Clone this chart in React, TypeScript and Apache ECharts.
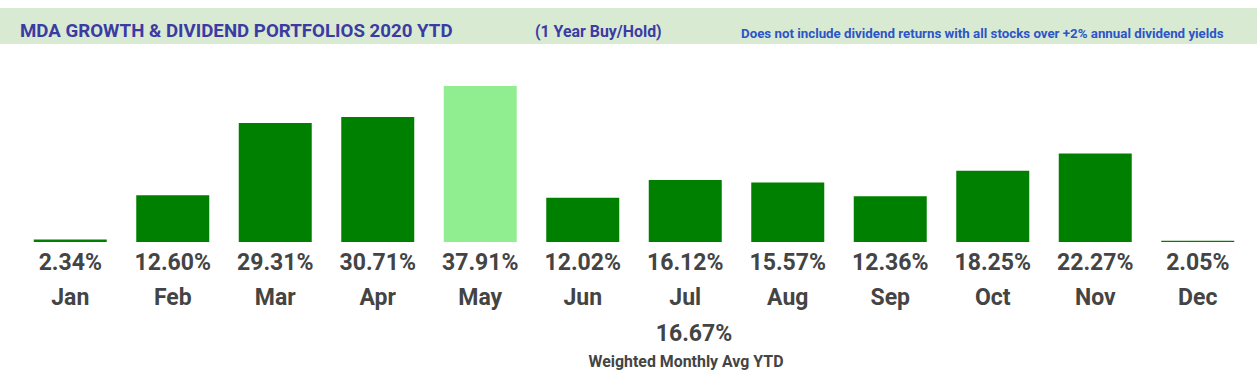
import React, { useEffect, useRef } from "react";
import * as echarts from "echarts";

const months = ["Jan", "Feb", "Mar", "Apr", "May", "Jun", "Jul", "Aug", "Sep", "Oct", "Nov", "Dec"];
const returns = [2.34, 12.6, 29.31, 30.71, 37.91, 12.02, 16.12, 15.57, 12.36, 18.25, 22.27, 2.05];
const highlightMonth = "May";
const weightedAvg = 16.67;

const titleText = "MDA GROWTH & DIVIDEND PORTFOLIOS 2020 YTD";
const subtitleText = "(1 Year Buy/Hold)";
const noteText = "Does not include dividend returns with all stocks over +2% annual dividend yields";
const avgLabel = "Weighted Monthly Avg YTD";

export default function App() {
  const ref = useRef<HTMLDivElement>(null);
  useEffect(() => {
    const chart = echarts.init(ref.current!, null, { renderer: "svg" });
    const font = "Roboto";
    chart.setOption({
      animation: false,
      grid: { left: 19, right: 8, top: 77, bottom: 134, containLabel: false },
      xAxis: {
        type: "category",
        data: months,
        axisLine: { show: false },
        axisTick: { show: false },
        axisLabel: {
          interval: 0,
          margin: 3,
          formatter: (v: string, i: number) => `{v|${returns[i].toFixed(2)}%}\n{m|${v}}`,
          rich: {
            v: { fontFamily: font, fontWeight: "bold", fontSize: 23, color: "#444444", lineHeight: 35 },
            m: { fontFamily: font, fontWeight: "bold", fontSize: 23, color: "#444444", lineHeight: 34 },
          },
        },
      },
      yAxis: {
        type: "value",
        min: 1.75,
        max: 40,
        show: false,
        splitLine: { show: false },
      },
      series: [
        {
          type: "bar",
          barWidth: 73,
          barMinHeight: 2,
          data: returns.map((v, i) => ({
            value: v,
            itemStyle: { color: months[i] === highlightMonth ? "#90ee90" : "#008000" },
          })),
        },
      ],
      graphic: [
        { type: "rect", shape: { x: 0, y: 8, width: 1257, height: 36 }, style: { fill: "#d9ead3" }, silent: true },
        {
          type: "text", x: 20, y: 31,
          style: { text: titleText, fontFamily: font, fontWeight: "bold", fontSize: 18.7, fill: "#3b3ba3", textVerticalAlign: "middle" },
        },
        {
          type: "text", x: 535, y: 31,
          style: { text: subtitleText, fontFamily: font, fontWeight: "bold", fontSize: 15.9, fill: "#3b3ba3", textVerticalAlign: "middle" },
        },
        {
          type: "text", x: 741, y: 33,
          style: { text: noteText, fontFamily: font, fontWeight: "bold", fontSize: 13.3, fill: "#2b55c8", textVerticalAlign: "middle" },
        },
        {
          type: "text", x: 694, y: 333,
          style: { text: weightedAvg.toFixed(2) + "%", fontFamily: font, fontWeight: "bold", fontSize: 23, fill: "#444444", textAlign: "center", textVerticalAlign: "middle" },
        },
        {
          type: "text", x: 686, y: 361,
          style: { text: avgLabel, fontFamily: font, fontWeight: "bold", fontSize: 15.9, fill: "#444444", textAlign: "center", textVerticalAlign: "middle" },
        },
      ],
    });
    return () => chart.dispose();
  }, []);
  return <div ref={ref} style={{ width: 1257, height: 376, position: "absolute", left: 0, top: 0 }} />;
}
